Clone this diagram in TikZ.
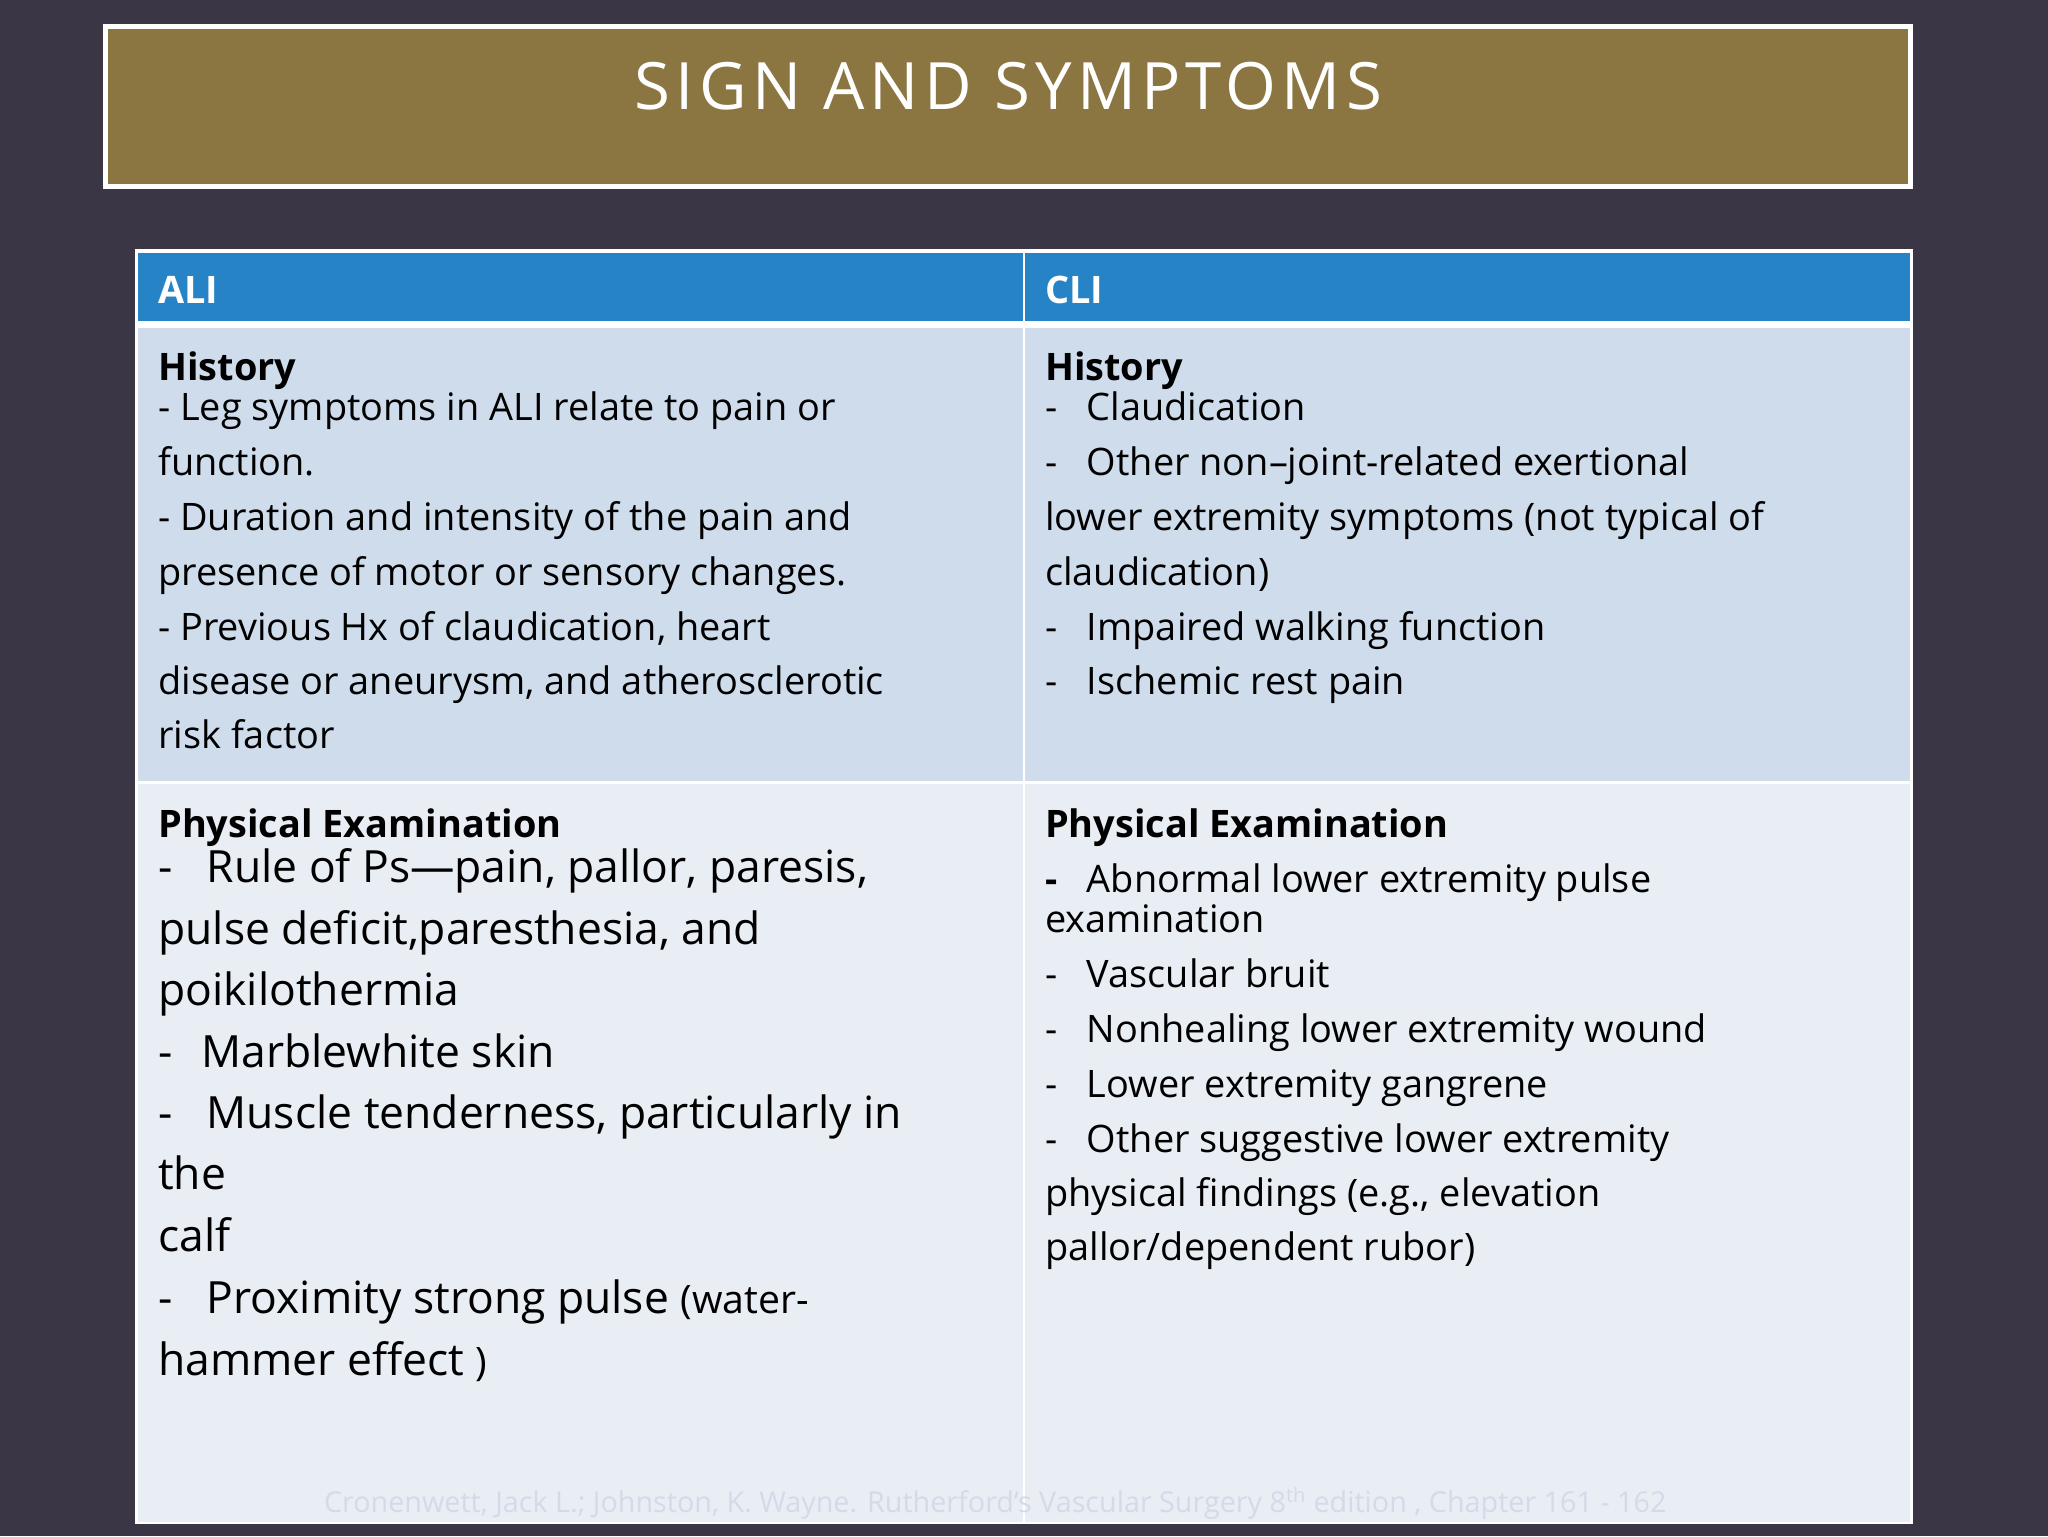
\documentclass[tikz,border=0pt]{standalone}
\usepackage{fontspec}
\setmainfont{Open Sans}
\definecolor{bg}{HTML}{3A3645}
\definecolor{gold}{HTML}{8B7641}
\definecolor{hdr}{HTML}{2683C6}
\definecolor{rowa}{HTML}{CFDCEC}
\definecolor{rowb}{HTML}{E9EDF4}
\definecolor{foot}{HTML}{D4DBE8}
\newcommand{\dd}[2]{\makebox[#1pt][l]{#2}}
\tikzset{
 ln/.style={anchor=base west,inner sep=0pt,font=\fontsize{29}{34}\selectfont},
 big/.style={anchor=base west,inner sep=0pt,font=\fontsize{34}{40}\selectfont},
 hd/.style={anchor=base west,inner sep=0pt,font=\fontsize{29}{34}\selectfont\bfseries},
 cell/.style={draw=white,line width=2pt}
}
\begin{document}
\begin{tikzpicture}[x=1pt,y=-1pt]
\fill[bg] (0,0) rectangle (1568,1176);
\useasboundingbox (0,0) rectangle (1568,1176);
\draw[fill=gold,draw=white,line width=4pt] (81,20) rectangle (1463,143);
\node[text=white,font=\fontsize{50}{56}\selectfont\addfontfeature{LetterSpace=8}] (title) at (772,66) {SIGN AND SYMPTOMS};
% table
\fill[white] (103,191) rectangle (1465,1167);
\draw[cell,fill=hdr] (105,193) rectangle (784,247);
\draw[cell,fill=hdr] (784,193) rectangle (1463,247);
\draw[cell,fill=rowa] (105,250) rectangle (784,599);
\draw[cell,fill=rowa] (784,250) rectangle (1463,599);
\draw[cell,fill=rowb] (105,599) rectangle (784,1166);
\draw[cell,fill=rowb] (784,599) rectangle (1463,1166);
\node[hd,text=white] (hali) at (121,232) {ALI};
\node[hd,text=white] (hcli) at (800,232) {CLI};
% ALI history
\node[hd] (ah) at (121,291) {History};
\foreach \y/\t [count=\i] in {322/{- Leg symptoms in ALI relate to pain or},364/{function.},406/{- Duration and intensity of the pain and},448/{presence of motor or sensory changes.},490/{- Previous Hx of claudication, heart},532/{disease or aneurysm, and atherosclerotic},573/{risk factor}}
 \node[ln] (ahl\i) at (121,\y) {\t};
% CLI history
\node[hd] (ch) at (800,291) {History};
\foreach \y/\t [count=\i] in {322/{\dd{32}{-}Claudication},364/{\dd{32}{-}Other non–joint-related exertional},406/{lower extremity symptoms (not typical of},448/{claudication)},490/{\dd{32}{-}Impaired walking function},532/{\dd{32}{-}Ischemic rest pain}}
 \node[ln] (chl\i) at (800,\y) {\t};
% ALI PE
\node[hd] (ap) at (121,641) {Physical Examination};
\foreach \y/\t [count=\i] in {676/{\dd{37}{-}Rule of Ps—pain, pallor, paresis,},723/{pulse deficit,paresthesia, and},770/{poikilothermia},817/{\dd{33}{-}Marblewhite skin},864/{\dd{37}{-}Muscle tenderness, particularly in},911/{the},958/{calf},1006/{\dd{37}{-}Proximity strong pulse {\fontsize{30}{34}\selectfont(water-}},1053/{hammer effect {\fontsize{30}{34}\selectfont)}}}
 \node[big] (apl\i) at (121,\y) {\t};
% CLI PE
\node[hd] (cp) at (800,641) {Physical Examination};
\foreach \y/\t [count=\i] in {683/{\dd{32}{\bfseries -}Abnormal lower extremity pulse},714/{examination},756/{\dd{32}{-}Vascular bruit},798/{\dd{32}{-}Nonhealing lower extremity wound},840/{\dd{32}{-}Lower extremity gangrene},882/{\dd{32}{-}Other suggestive lower extremity},924/{physical findings (e.g., elevation},965/{pallor/dependent rubor)}}
 \node[ln] (cpl\i) at (800,\y) {\t};
\node[anchor=base,inner sep=0pt,text=foot,font=\fontsize{22}{26}\selectfont] (ft) at (762,1158) {Cronenwett, Jack L.; Johnston, K. Wayne. Rutherford's Vascular Surgery 8\textsuperscript{th} edition , Chapter 161 - 162};
\end{tikzpicture}
\end{document}
